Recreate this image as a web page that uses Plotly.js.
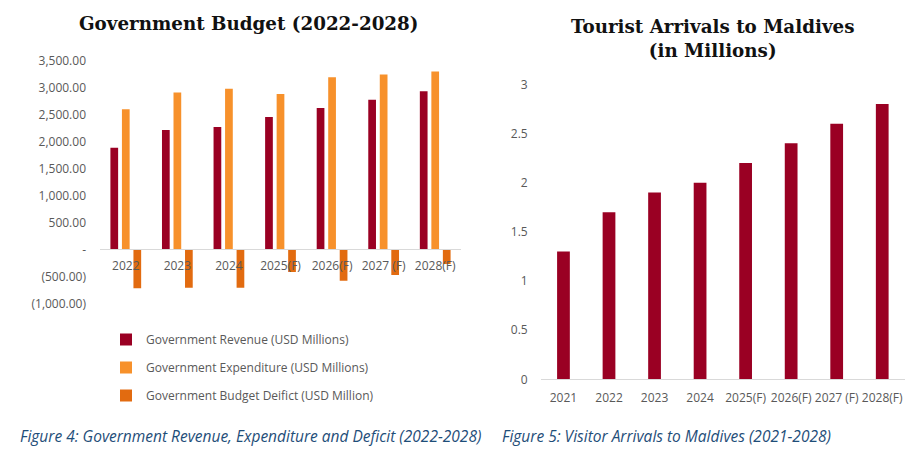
<!DOCTYPE html>
<html>
<head>
<meta charset="utf-8">
<script src="https://cdn.plot.ly/plotly-3.0.1.min.js"></script>
<style>
  html, body { margin: 0; padding: 0; background: #ffffff; }
  #chart { width: 913px; height: 456px; }
</style>
</head>
<body>
<div id="chart"></div>
<script>
// Government budget, USD millions
const budgetYears = ['2022', '2023', '2024', '2025(F)', '2026(F)', '2027 (F)', '2028(F)'];
const revenue     = [1890, 2220, 2275, 2460, 2625, 2780, 2940];
const expenditure = [2605, 2915, 2985, 2885, 3200, 3250, 3305];
const deficit     = [-720, -710, -710, -420, -580, -475, -270];

const budgetTickVals = [-1000, -500, 0, 500, 1000, 1500, 2000, 2500, 3000, 3500];
const budgetTickText = ['(1,000.00)', '(500.00)', '-', '500.00', '1,000.00', '1,500.00',
                        '2,000.00', '2,500.00', '3,000.00', '3,500.00'];

// Tourist arrivals, millions
const arrivalYears = ['2021', '2022', '2023', '2024', '2025(F)', '2026(F)', '2027 (F)', '2028(F)'];
const arrivals     = [1.3, 1.7, 1.9, 2.0, 2.2, 2.4, 2.6, 2.8];

const W = 913, H = 456;
const px = v => v / W;
const py = v => 1 - v / H;

const budgetRange = [-1000, 3500];
const leftDomY = [py(303.3), py(61)];
// paper position of the zero line, where the category axis sits
const zeroPos = leftDomY[0] + (0 - budgetRange[0]) / (budgetRange[1] - budgetRange[0]) * (leftDomY[1] - leftDomY[0]);

const tickFont = { family: 'Open Sans, sans-serif', size: 12, color: '#595959' };
const titleFont = { family: 'DejaVu Serif, serif', size: 18.3, color: '#111111' };
const captionFont = { family: 'Open Sans, sans-serif', size: 15.5, color: '#1F4E79' };

const traces = [
  { type: 'bar', name: 'Government Revenue (USD Millions)', x: budgetYears, y: revenue,
    marker: { color: '#9A0023' }, xaxis: 'x', yaxis: 'y', legendgroup: 'a', hoverinfo: 'skip' },
  { type: 'bar', name: 'Government Expenditure (USD Millions)', x: budgetYears, y: expenditure,
    marker: { color: '#F7912B' }, xaxis: 'x', yaxis: 'y', legendgroup: 'b', hoverinfo: 'skip' },
  { type: 'bar', name: 'Government Budget Deifict (USD Million)', x: budgetYears, y: deficit,
    marker: { color: '#E26B10' }, xaxis: 'x', yaxis: 'y', legendgroup: 'c', hoverinfo: 'skip' },
  { type: 'bar', name: 'Tourist Arrivals', x: arrivalYears, y: arrivals, width: 0.28,
    marker: { color: '#9A0023' }, xaxis: 'x2', yaxis: 'y2', showlegend: false, hoverinfo: 'skip' }
];

const layout = {
  width: W, height: H,
  margin: { l: 0, r: 0, t: 0, b: 0 },
  paper_bgcolor: '#ffffff', plot_bgcolor: 'rgba(0,0,0,0)',
  barmode: 'group', bargap: 0.33, bargroupgap: 0.33,
  showlegend: true,
  legend: {
    x: px(106), xanchor: 'left', y: py(325), yanchor: 'top',
    orientation: 'v', tracegroupgap: 9,
    font: tickFont, bgcolor: 'rgba(0,0,0,0)'
  },
  xaxis: {
    type: 'category',
    domain: [px(100), px(461)], anchor: 'free', position: zeroPos,
    showline: true, linecolor: '#D9D9D9', linewidth: 1,
    showgrid: false, ticks: '', ticklabelstandoff: 5, tickfont: tickFont,
    fixedrange: true
  },
  yaxis: {
    domain: leftDomY, range: budgetRange,
    tickvals: budgetTickVals, ticktext: budgetTickText,
    showgrid: false, zeroline: false, showline: false, ticks: '',
    ticklabelstandoff: 13, tickfont: tickFont, fixedrange: true
  },
  xaxis2: {
    type: 'category',
    domain: [px(540.7), px(905)], anchor: 'y2',
    showline: true, linecolor: '#D9D9D9', linewidth: 1,
    showgrid: false, ticks: '', ticklabelstandoff: 7, tickfont: tickFont,
    fixedrange: true
  },
  yaxis2: {
    domain: [py(379.3), py(84.3)], anchor: 'x2', range: [0, 3],
    dtick: 0.5, showgrid: false, zeroline: false, showline: false, ticks: '',
    ticklabelstandoff: 12, tickfont: tickFont, fixedrange: true
  },
  annotations: [
    { text: '<b>Government Budget (2022-2028)</b>', xref: 'paper', yref: 'paper',
      x: px(249), y: py(24), xanchor: 'center', yanchor: 'middle', showarrow: false, font: titleFont },
    { text: '<b>Tourist Arrivals to Maldives<br>(in Millions)</b>', xref: 'paper', yref: 'paper',
      x: px(712), y: py(38), xanchor: 'center', yanchor: 'middle', showarrow: false, font: titleFont },
    { text: '<i>Figure 4: Government Revenue, Expenditure and Deficit (2022-2028)</i>', xref: 'paper', yref: 'paper',
      x: px(18), y: py(436), xanchor: 'left', yanchor: 'middle', showarrow: false, font: captionFont },
    { text: '<i>Figure 5: Visitor Arrivals to Maldives (2021-2028)</i>', xref: 'paper', yref: 'paper',
      x: px(500), y: py(436), xanchor: 'left', yanchor: 'middle', showarrow: false, font: captionFont }
  ]
};

Plotly.newPlot('chart', traces, layout, { staticPlot: true, displayModeBar: false });
</script>
</body>
</html>
